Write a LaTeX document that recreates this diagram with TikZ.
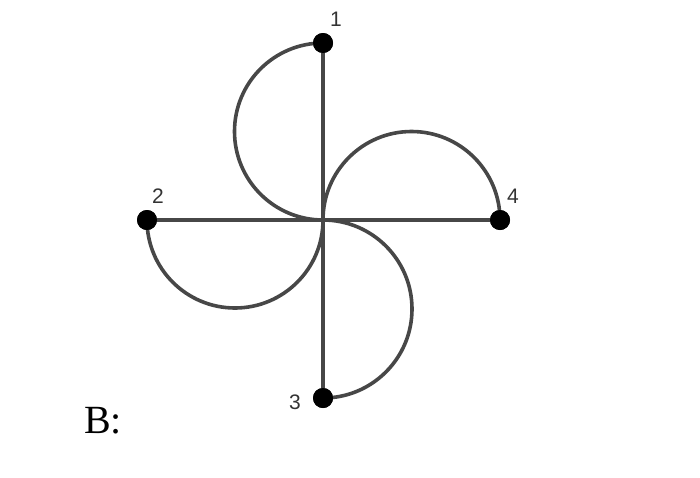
\documentclass[tikz,border=0pt]{standalone}
\usepackage{fontspec}
\setmainfont{Liberation Serif}
\newfontfamily\lblfont{Liberation Sans}
\begin{document}
\begin{tikzpicture}[x=1pt,y=-1pt,
  edge/.style={draw=black!72,line width=3.6pt},
  dot/.style={circle,fill=black,inner sep=0pt,minimum size=20pt},
  lbl/.style={font=\lblfont\fontsize{21}{21}\selectfont,text=black!80}]
\useasboundingbox (0,0) rectangle (700,477);
\coordinate (c) at (323,220);
\node[dot] (p1) at (323,43) {};
\node[dot] (p2) at (147,220) {};
\node[dot] (p3) at (323,398) {};
\node[dot] (p4) at (500,220) {};
\draw[edge] (p1.center) -- (p3.center);
\draw[edge] (p2.center) -- (p4.center);
\draw[edge] (p1.center) arc[start angle=-90,end angle=-270,radius=88.5];
\draw[edge] (c) arc[start angle=180,end angle=360,radius=88.5];
\draw[edge] (c) arc[start angle=270,end angle=450,radius=89];
\draw[edge] (p2.center) arc[start angle=180,end angle=0,radius=88];
\node[dot] at (p1) {};
\node[dot] at (p2) {};
\node[dot] at (p3) {};
\node[dot] at (p4) {};
\node[lbl] (l1) at (336,19) {1};
\node[lbl] (l2) at (158,196) {2};
\node[lbl] (l3) at (295,402) {3};
\node[lbl] (l4) at (513,196) {4};
\node[font=\fontsize{40}{40}\selectfont,anchor=base west,inner sep=0pt] (b) at (84,433) {B:};
\end{tikzpicture}
\end{document}
